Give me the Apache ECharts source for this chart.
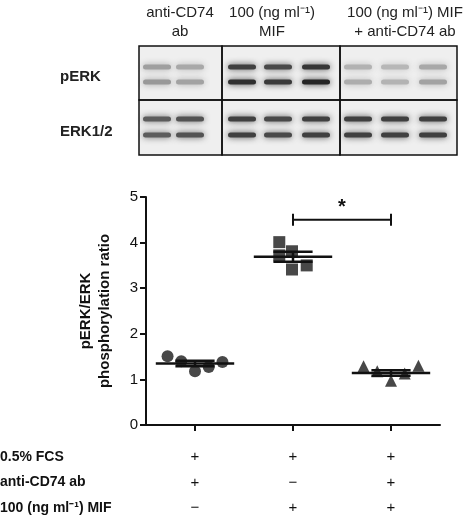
<!DOCTYPE html><html><head><meta charset="utf-8"><script src="https://cdn.jsdelivr.net/npm/echarts@6/dist/echarts.min.js"></script></head><body style="margin:0"><div id="c" style="width:474px;height:516px"></div><script>
const categories=['1','2','3'];
const group1=[[0.72,1.51],[0.86,1.40],[1.0,1.18],[1.14,1.27],[1.28,1.38]];
const group2=[[1.86,4.01],[1.99,3.81],[1.86,3.72],[1.99,3.41],[2.14,3.50]];
const group3=[[2.72,1.29],[2.86,1.18],[3.0,0.97],[3.14,1.13],[3.28,1.30]];
const means=[1.35,3.69,1.14];
const sems=[0.06,0.11,0.06];
const rowFCS=['+','+','+'];
const rowCD74=['+','−','+'];
const rowMIF=['−','+','+'];
const rowLabels=['0.5% FCS','anti-CD74 ab','100 (ng ml\u207B\u00B9) MIF'];
const laneHeaders=['anti-CD74\nab','100 (ng ml\u207B\u00B9)\nMIF','100 (ng ml\u207B\u00B9) MIF\n+ anti-CD74 ab'];
const laneX=[157,190,242,278,316,358,395,433];
const pInt=[0.35,0.3,0.85,0.8,0.9,0.25,0.22,0.3];
const eInt=[0.7,0.75,0.85,0.8,0.85,0.85,0.85,0.85];
const F='"Liberation Sans", Arial';
const ch=echarts.init(document.getElementById('c'));
const g=[];
g.push({type:'rect',shape:{x:139,y:46,width:318,height:109},style:{fill:'#efefef'},z:1});
laneX.forEach((x,i)=>{
 [[67,pInt[i]],[82,pInt[i]*1.1],[119,eInt[i]],[135,eInt[i]]].forEach(([y,a])=>{
  const v=Math.round(225-190*Math.min(a,1));
  g.push({type:'rect',shape:{x:x-14,y:y-2.5,width:28,height:5,r:2.5},style:{fill:`rgb(${v},${v},${v})`,shadowBlur:6,shadowColor:`rgba(${v},${v},${v},0.9)`},z:2});
 });
});
[[139,46,83,54],[222,46,118,54],[340,46,117,54],[139,100,83,55],[222,100,118,55],[340,100,117,55]].forEach(r=>g.push({type:'rect',shape:{x:r[0],y:r[1],width:r[2],height:r[3]},style:{fill:'none',stroke:'#111',lineWidth:1.5},z:3}));
[[180,22],[272,22],[405,22]].forEach((p,i)=>g.push({type:'text',x:p[0],y:p[1],style:{text:laneHeaders[i],align:'center',verticalAlign:'middle',font:'15px '+F,fill:'#222',lineHeight:19}}));
g.push({type:'text',x:60,y:77,style:{text:'pERK',font:'bold 15px '+F,fill:'#222',verticalAlign:'middle'}});
g.push({type:'text',x:60,y:132,style:{text:'ERK1/2',font:'bold 15px '+F,fill:'#222',verticalAlign:'middle'}});
rowLabels.forEach((t,i)=>g.push({type:'text',x:0,y:457+i*25.5,style:{text:t,font:'bold 14px '+F,fill:'#111',verticalAlign:'middle'}}));
const sym={symbolSize:12,itemStyle:{color:'#1a1a1a'}};
const opt={animation:false,graphic:g,
grid:{left:146,right:34,top:197,bottom:91},
xAxis:{type:'value',min:0.5,max:3.5,splitLine:{show:false},
 axisLine:{lineStyle:{color:'#111',width:2}},axisTick:{show:false},axisLabel:{show:false}},
yAxis:{type:'value',min:0,max:5,interval:1,splitLine:{show:false},
 axisLine:{show:true,lineStyle:{color:'#111',width:2}},axisTick:{show:true,length:6,lineStyle:{width:2}},
 axisLabel:{color:'#111',fontSize:15,fontFamily:F},
 name:'pERK/ERK\nphosphorylation ratio',nameLocation:'middle',nameGap:32,nameRotate:90,
 nameTextStyle:{fontWeight:'bold',fontSize:15,color:'#111',lineHeight:19,fontFamily:F}},
series:[
 {type:'scatter',symbol:'circle',data:group1,...sym},
 {type:'scatter',symbol:'rect',data:group2,...sym},
 {type:'scatter',symbol:'triangle',data:group3,...sym},
 {type:'custom',z:5,data:means.map((m,i)=>[i+1,m,sems[i]]),renderItem:(p,api)=>{
   const x=api.value(0),m=api.value(1),s=api.value(2);
   const P=(a,b)=>api.coord([a,b]);
   const ln=(a,b)=>({type:'line',shape:{x1:a[0],y1:a[1],x2:b[0],y2:b[1]},style:{stroke:'#111',lineWidth:2.5}});
   return {type:'group',children:[ln(P(x-0.4,m),P(x+0.4,m)),ln(P(x-0.2,m+s),P(x+0.2,m+s)),ln(P(x-0.2,m-s),P(x+0.2,m-s)),ln(P(x,m-s),P(x,m+s))]};
 }},
 {type:'custom',z:5,data:[[2,3,4.5]],renderItem:(p,api)=>{
   const a=api.coord([api.value(0),api.value(2)]),b=api.coord([api.value(1),api.value(2)]);
   const st={stroke:'#111',lineWidth:2};
   return {type:'group',children:[
    {type:'line',shape:{x1:a[0],y1:a[1],x2:b[0],y2:b[1]},style:st},
    {type:'line',shape:{x1:a[0],y1:a[1]-6,x2:a[0],y2:a[1]+6},style:st},
    {type:'line',shape:{x1:b[0],y1:b[1]-6,x2:b[0],y2:b[1]+6},style:st},
    {type:'text',x:(a[0]+b[0])/2,y:a[1]-12,style:{text:'*',font:'bold 20px '+F,align:'center',verticalAlign:'middle',fill:'#111'}}]};
 }}
]};
ch.setOption(opt);
categories.forEach((c,i)=>{
 const px=ch.convertToPixel({gridIndex:0},[i+1,0]);
 g.push({type:'line',shape:{x1:px[0],y1:px[1],x2:px[0],y2:px[1]+6},style:{stroke:'#111',lineWidth:2}});
 [rowFCS,rowCD74,rowMIF].forEach((r,j)=>g.push({type:'text',x:px[0],y:457+j*25.5,style:{text:r[i],align:'center',verticalAlign:'middle',font:'15px '+F,fill:'#111'}}));
});
ch.setOption({graphic:g});
</script></body></html>
